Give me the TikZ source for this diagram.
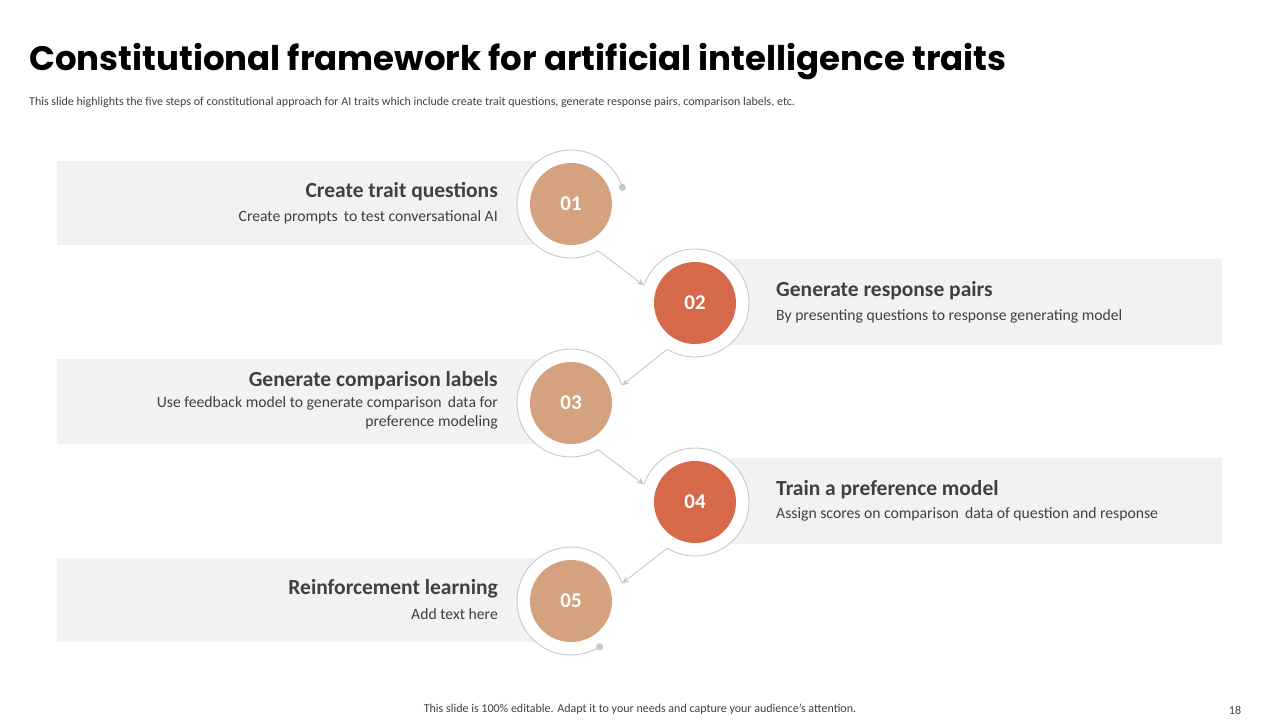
\documentclass[tikz,border=0pt]{standalone}
\usepackage{fontspec}
\setmainfont{Carlito}
\newfontfamily\titlefont{Poppins}
\usetikzlibrary{calc,arrows.meta}
\definecolor{boxg}{HTML}{F2F2F2}
\definecolor{lightc}{HTML}{D4A27E}
\definecolor{darkc}{HTML}{D7694B}
\definecolor{txt}{HTML}{404040}
\definecolor{ringc}{HTML}{C8C8C8}
\tikzset{
 bg/.style={fill=boxg,draw=none},
 disc/.style={circle,minimum size=82pt,inner sep=0pt,text=white,font=\fontsize{21}{22}\selectfont\bfseries},
 ring/.style={draw=ringc,line width=0.9pt},
 conn/.style={draw=ringc,line width=0.9pt,-{Stealth[length=7pt,width=6pt]}},
 head/.style={font=\fontsize{21.5}{22}\selectfont\bfseries,text=txt,inner sep=0pt},
 sub/.style={font=\fontsize{15.7}{19}\selectfont,text=txt,inner sep=0pt,align=right},
 subl/.style={font=\fontsize{15.7}{19}\selectfont,text=txt,inner sep=0pt,align=left}
}
\begin{document}
\begin{tikzpicture}[x=1pt,y=-1pt]
\useasboundingbox (0,0) rectangle (1280,720);
\fill[white] (0,0) rectangle (1280,720);
\node[anchor=west,inner sep=0pt,font=\titlefont\fontsize{34}{38}\selectfont\bfseries] (title) at (29,62) {Constitutional framework for artificial intelligence traits};
\node[anchor=west,inner sep=0pt,font=\fontsize{12}{13}\selectfont,text=txt] (subt) at (29,102) {This slide highlights the five steps of constitutional approach for AI traits which include create trait questions, generate response pairs, comparison labels, etc.};
\node[inner sep=0pt,font=\fontsize{12}{13}\selectfont,text=txt] (foot) at (640,709) {This slide is 100\% editable. Adapt it to your needs and capture your audience's attention.};
\node[inner sep=0pt,font=\fontsize{12}{13}\selectfont,text=txt] (pg) at (1235,710) {18};
% boxes
\fill[bg] (57,161) rectangle (560,245);
\fill[bg] (700,259) rectangle (1222,345);
\fill[bg] (57,359) rectangle (560,444);
\fill[bg] (700,458) rectangle (1222,544);
\fill[bg] (57,558) rectangle (560,642);
% centers
\coordinate (c1) at (571,204);
\coordinate (c2) at (695,303);
\coordinate (c3) at (571,403);
\coordinate (c4) at (695,502);
\coordinate (c5) at (571,601);
\foreach \c in {c1,c2,c3,c4,c5} \fill[white] (\c) circle[radius=54];
% rings
\draw[ring] ($(c1)+(-18:54)$) arc[start angle=-18,end angle=-300,radius=54];
\fill[ringc] ($(c1)+(-18:54)$) circle[radius=3.5];
\draw[ring] ($(c2)+(-161:54)$) arc[start angle=-161,end angle=121,radius=54];
\draw[ring] ($(c3)+(-19:54)$) arc[start angle=-19,end angle=-300,radius=54];
\draw[ring] ($(c4)+(-161:54)$) arc[start angle=-161,end angle=121,radius=54];
\draw[ring] ($(c5)+(-19:54)$) arc[start angle=-19,end angle=-302,radius=54];
\fill[ringc] ($(c5)+(-302:54)$) circle[radius=3.5];
% connectors
\coordinate (a1) at ($(c1)+(-300:54)$); \coordinate (b2) at ($(c2)+(-161:54)$);
\coordinate (a2) at ($(c2)+(121:54)$); \coordinate (b3) at ($(c3)+(-19:54)$);
\coordinate (a3) at ($(c3)+(-300:54)$); \coordinate (b4) at ($(c4)+(-161:54)$);
\coordinate (a4) at ($(c4)+(121:54)$); \coordinate (b5) at ($(c5)+(-19:54)$);
\draw[conn] (a1) -- (b2);
\draw[conn] (a2) -- (b3);
\draw[conn] (a3) -- (b4);
\draw[conn] (a4) -- (b5);
% discs
\node[disc,fill=lightc] (n1) at (c1) {01};
\node[disc,fill=darkc] (n2) at (c2) {02};
\node[disc,fill=lightc] (n3) at (c3) {03};
\node[disc,fill=darkc] (n4) at (c4) {04};
\node[disc,fill=lightc] (n5) at (c5) {05};
% texts
\node[head,anchor=east] (h1) at (498,192) {Create trait questions};
\node[sub,anchor=east] (s1) at (498,217) {Create prompts\, to test conversational AI};
\node[head,anchor=west] (h2) at (776,291) {Generate response pairs};
\node[subl,anchor=west] (s2) at (776,316) {By presenting questions to response generating model};
\node[head,anchor=east] (h3) at (498,381) {Generate comparison labels};
\node[sub,anchor=north east] (s3) at (498,396) {Use feedback model to generate comparison\, data for\\preference modeling};
\node[head,anchor=west] (h4) at (776,490) {Train a preference model};
\node[subl,anchor=west] (s4) at (776,514) {Assign scores on comparison\, data of question and response};
\node[head,anchor=east] (h5) at (498,589) {Reinforcement learning};
\node[sub,anchor=east] (s5) at (498,614) {Add text here};
\end{tikzpicture}
\end{document}
